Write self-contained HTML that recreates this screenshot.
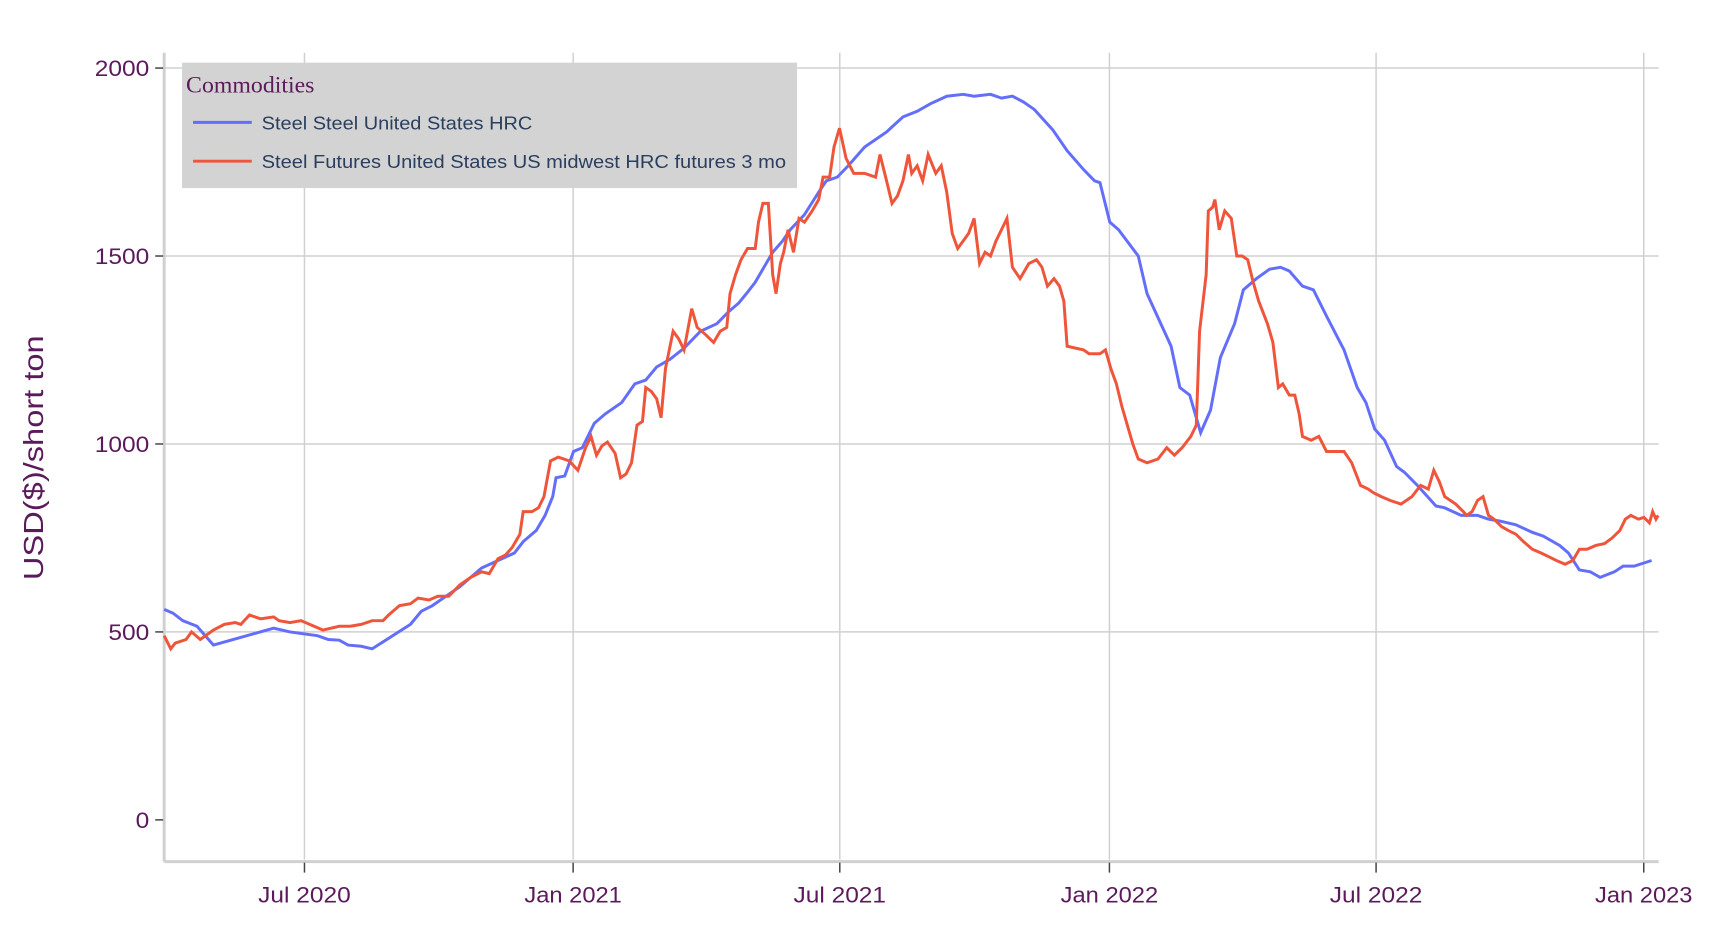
<!DOCTYPE html>
<html><head><meta charset="utf-8"><style>
body{margin:0;background:#fff;}
svg text{font-family:"Liberation Sans",sans-serif;}
</style></head><body>
<svg id="s" width="1716" height="930" xmlns="http://www.w3.org/2000/svg">
<g transform="scale(0.995)">
<g stroke="#d0d0d0" stroke-width="1.5" id="grid"></g>
<line x1="165" y1="53" x2="165" y2="866" stroke="#d0d0d0" stroke-width="3"/>
<line x1="165" y1="866" x2="1667" y2="866" stroke="#d0d0d0" stroke-width="3"/>
<g id="ticks" fill="#5b1a5a" font-size="22"></g>
<text transform="translate(43,460) rotate(-90)" text-anchor="middle" font-size="28" fill="#5b1a5a" textLength="246" lengthAdjust="spacingAndGlyphs">USD($)/short ton</text>
<path id="blue" fill="none" stroke="#636efa" stroke-width="3"/>
<path id="red" fill="none" stroke="#ef553b" stroke-width="3"/>
<rect x="183" y="63" width="618" height="126" fill="#d3d3d3"/>
<text x="187" y="93" font-size="23" fill="#5b1a5a" style="font-family:'Liberation Serif',serif" textLength="129" lengthAdjust="spacingAndGlyphs">Commodities</text>
<line x1="194" y1="123" x2="253" y2="123" stroke="#636efa" stroke-width="3"/>
<text x="263" y="130" font-size="19" fill="#2a3f5f" textLength="272" lengthAdjust="spacingAndGlyphs">Steel Steel United States HRC</text>
<line x1="194" y1="162" x2="253" y2="162" stroke="#ef553b" stroke-width="3"/>
<text x="263" y="169" font-size="19" fill="#2a3f5f" textLength="527" lengthAdjust="spacingAndGlyphs">Steel Futures United States US midwest HRC futures 3 mo</text>
</g>
</svg>
<script>
var NS="http://www.w3.org/2000/svg";
function el(p,t,a,txt){var e=document.createElementNS(NS,t);for(var k in a)e.setAttribute(k,a[k]);if(txt)e.textContent=txt;document.getElementById(p).appendChild(e);}
function Y(v){return 824-v*0.3778;}
[0,500,1000,1500,2000].forEach(function(v){var y=Y(v);var s=String(v);
 if(v>0)el("grid","line",{x1:165,x2:1667,y1:y,y2:y});
 el("ticks","line",{x1:156,x2:164,y1:y,y2:y,stroke:"#444","stroke-width":1.5});
 el("ticks","text",{x:150,y:y+8,"text-anchor":"end",textLength:s.length*13.7,lengthAdjust:"spacingAndGlyphs"},s);});
[[306,"Jul 2020",93],[576,"Jan 2021",98],[844,"Jul 2021",93],[1115,"Jan 2022",98],[1383,"Jul 2022",93],[1652,"Jan 2023",98]].forEach(function(t){
 el("grid","line",{x1:t[0],x2:t[0],y1:53,y2:864});
 el("ticks","line",{x1:t[0],x2:t[0],y1:867,y2:877,stroke:"#444","stroke-width":1.5});
 el("ticks","text",{x:t[0],y:907,"text-anchor":"middle",textLength:t[2],lengthAdjust:"spacingAndGlyphs"},t[1]);});
var B=[150,560,158,550,167,530,180,515,195,465,250,510,265,500,290,490,300,480,310,478,318,465,330,462,340,455,375,520,385,555,395,570,410,600,420,620,440,670,455,690,470,710,478,740,490,770,498,810,505,860,508,910,516,915,524,980,532,990,543,1055,553,1080,568,1110,580,1160,590,1170,600,1205,612,1225,625,1255,640,1300,655,1320,665,1350,675,1375,682,1400,690,1430,698,1470,706,1510,715,1540,722,1570,735,1610,748,1670,755,1700,765,1710,775,1740,790,1790,810,1830,825,1870,838,1885,850,1905,865,1925,880,1930,890,1925,905,1930,915,1920,925,1925,935,1910,945,1890,962,1835,975,1780,990,1730,1000,1700,1005,1695,1014,1590,1022,1570,1040,1500,1048,1400,1070,1260,1078,1150,1087,1130,1097,1030,1106,1090,1115,1230,1128,1320,1136,1410,1148,1440,1160,1465,1170,1470,1178,1460,1190,1420,1200,1410,1212,1340,1228,1250,1240,1150,1248,1110,1256,1040,1265,1010,1276,940,1283,925,1295,890,1312,835,1320,830,1335,810,1350,810,1360,800,1370,795,1385,785,1400,765,1410,755,1425,730,1433,710,1443,665,1453,660,1462,645,1475,660,1483,675,1493,675,1509,690];
var R=[150,490,156,455,160,470,170,480,175,500,183,480,195,505,205,520,215,525,220,520,228,545,238,535,250,540,255,530,265,525,275,530,287,515,295,505,310,515,320,515,330,520,340,530,350,530,355,545,365,570,375,575,382,590,392,585,400,595,410,595,420,625,430,645,440,660,447,655,455,695,462,705,468,725,475,760,478,820,486,820,492,830,497,860,503,955,510,965,520,955,528,930,535,990,540,1020,545,970,550,995,555,1005,562,975,567,910,572,920,577,950,582,1050,587,1060,590,1150,595,1140,600,1120,604,1070,608,1200,615,1300,620,1280,625,1250,632,1360,637,1310,645,1290,652,1270,658,1300,664,1310,667,1400,672,1450,677,1490,683,1520,690,1520,693,1590,697,1640,702,1640,706,1450,709,1400,713,1480,716,1510,720,1570,725,1510,730,1600,735,1590,742,1620,748,1650,752,1710,758,1710,762,1790,767,1840,773,1760,780,1720,790,1720,800,1710,804,1770,810,1700,815,1640,820,1660,825,1700,830,1770,833,1720,838,1740,843,1700,848,1770,855,1720,860,1740,865,1670,870,1560,875,1520,880,1540,885,1560,890,1600,895,1480,900,1510,905,1500,910,1540,915,1570,920,1600,925,1470,932,1440,940,1480,947,1490,952,1470,957,1420,963,1440,968,1420,972,1380,975,1260,990,1250,995,1240,1005,1240,1010,1250,1015,1200,1020,1160,1025,1100,1030,1050,1035,1000,1040,960,1048,950,1058,960,1066,990,1073,970,1080,990,1088,1020,1093,1050,1096,1300,1102,1450,1104,1620,1108,1630,1110,1650,1114,1570,1119,1620,1125,1600,1130,1500,1135,1500,1140,1490,1145,1430,1150,1380,1158,1320,1163,1270,1168,1150,1172,1160,1178,1130,1183,1130,1187,1080,1190,1020,1198,1010,1205,1020,1212,980,1220,980,1228,980,1235,950,1243,890,1250,880,1255,870,1262,860,1270,850,1280,840,1290,860,1298,890,1305,880,1310,930,1315,900,1320,860,1330,840,1337,820,1340,810,1345,820,1350,850,1355,860,1360,810,1365,800,1372,780,1378,770,1385,760,1392,740,1400,720,1408,710,1415,700,1422,690,1430,680,1437,690,1443,720,1450,720,1458,730,1466,735,1473,750,1480,770,1485,800,1490,810,1497,800,1502,805,1507,790,1510,820,1513,800,1515,810];
function P(a){var d="";for(var i=0;i<a.length;i+=2){var x=Math.max(165,Math.min(1667,a[i]*1.1));d+=(i?"L":"M")+x.toFixed(1)+","+Y(a[i+1]).toFixed(1);}return d;}
document.getElementById("blue").setAttribute("d",P(B));
document.getElementById("red").setAttribute("d",P(R));
</script>
</body></html>
